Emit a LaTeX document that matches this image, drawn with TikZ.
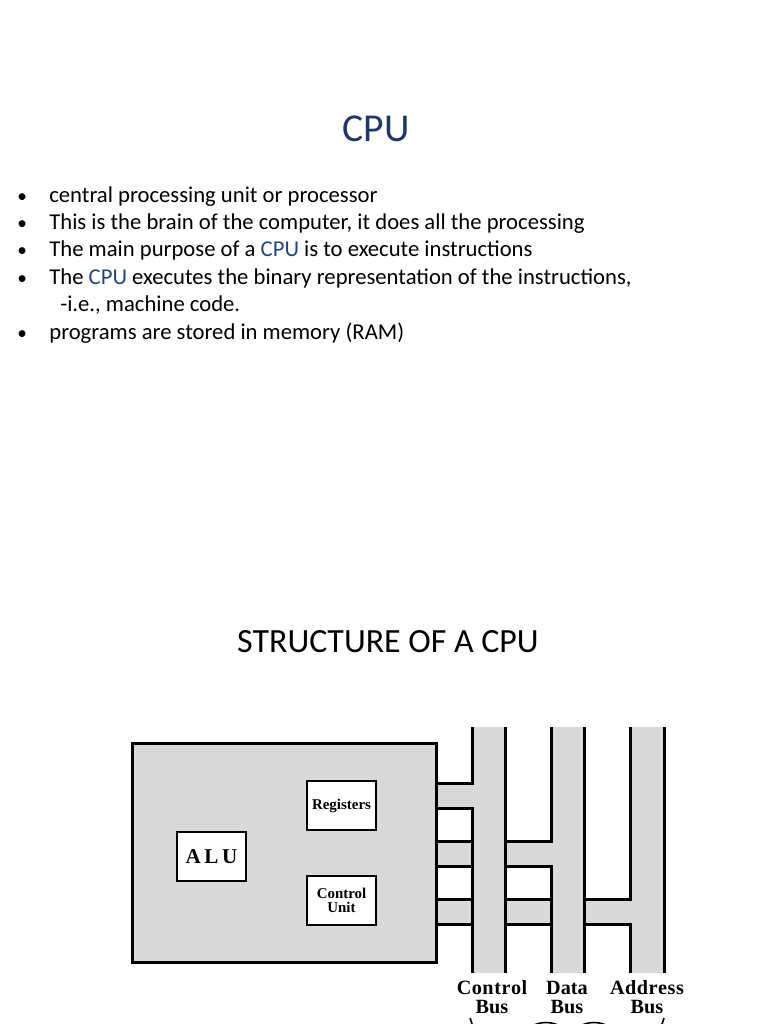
\documentclass[tikz,border=0pt]{standalone}
\usepackage{fontspec}
\setmainfont{Carlito}
\newfontfamily\figfont{Liberation Serif}
\definecolor{titleBlue}{HTML}{1F3864}
\definecolor{cpuBlue}{HTML}{1F497D}
\definecolor{busGray}{HTML}{D9D9D9}
\newcommand{\cpuword}{\textcolor{cpuBlue}{CPU}}

\begin{document}
\begin{tikzpicture}[
  x=0.02cm, y=-0.02cm,
  titleText/.style  ={anchor=base, inner sep=0pt, font=\fontsize{22.5}{27}\selectfont, text=titleBlue},
  headText/.style   ={anchor=base, inner sep=0pt, font=\fontsize{19.3}{23}\selectfont},
  bulletDot/.style  ={anchor=base west, inner sep=0pt, font=\fontsize{11}{15.5}\selectfont},
  bulletText/.style ={anchor=base west, inner sep=0pt, font=\fontsize{12.9}{15.5}\selectfont},
  cpuBox/.style     ={rectangle, draw=black, line width=1.7pt, fill=busGray, minimum width=6.1cm, minimum height=4.4cm, inner sep=0pt},
  partBox/.style    ={rectangle, draw=black, line width=1.2pt, fill=white, minimum width=1.38cm, minimum height=0.98cm, inner sep=0pt, align=center},
  busLabel/.style   ={anchor=base, inner sep=0pt, font=\figfont\bfseries\fontsize{11.5}{14}\selectfont},
  busLine/.style    ={line width=1.7pt},
  braceLine/.style  ={line width=0.9pt}
]
\fill[white] (0,0) rectangle (768,1024);
\useasboundingbox (0,0) rectangle (768,1024);
\clip (0,0) rectangle (768,1024);

% ================== TITLE ==================
\node[titleText] (Title) at (376,141) {CPU};

% ================== BULLETS ==================
\foreach \y/\n in {202/1, 229/2, 256/3, 284/4, 339/6}
  \node[bulletDot] (Dot\n) at (17,\y) {\textbullet};
\node[bulletText] (Line1) at (49,202) {central processing unit or processor};
\node[bulletText] (Line2) at (49,229) {This is the brain of the computer, it does all the processing};
\node[bulletText] (Line3) at (49,256) {The main purpose of a \cpuword{} is to execute instructions};
\node[bulletText] (Line4) at (49,284) {The \cpuword{} executes the binary representation of the instructions,};
\node[bulletText] (Line5) at (60,311) {-i.e., machine code.};
\node[bulletText] (Line6) at (49,339) {programs are stored in memory (RAM)};

% ================== STRUCTURE HEADING ==================
\node[headText] (Head) at (388,652) {STRUCTURE OF A CPU};

% ================== BUS FILLS ==================
\foreach \l/\r in {472/505, 551/584, 630/664}
  \fill[busGray] (\l,727) rectangle (\r,973);
\fill[busGray] (437,783) rectangle (472,808);
\fill[busGray] (437,841) rectangle (551,866);
\fill[busGray] (437,899) rectangle (630,924);

% ================== CPU BOX ==================
\node[cpuBox] (CPU) at (284.5,853) {};
\node[partBox, font=\figfont\bfseries\fontsize{8.5}{8}\selectfont] (Reg) at (341.5,805.5) {Registers};
\node[partBox, font=\figfont\bfseries\fontsize{12}{14}\selectfont] (ALU) at (211.5,856.5) {A\,L\,U};
\node[partBox, font=\figfont\bfseries\fontsize{8.5}{8}\selectfont] (CU) at (341.5,900.5) {Control\\Unit};

% ================== BUS LINES ==================
% control bus
\draw[busLine] (472,727) -- (472,783) -- (CPU.east |- 0,783);
\draw[busLine] (CPU.east |- 0,808) -- (472,808) -- (472,973);
\draw[busLine] (505,727) -- (505,973);
% data bus
\draw[busLine] (551,727) -- (551,841) -- (505,841);
\draw[busLine] (505,866) -- (551,866) -- (551,973);
\draw[busLine] (584,727) -- (584,973);
% address bus
\draw[busLine] (630,727) -- (630,899) -- (584,899);
\draw[busLine] (584,924) -- (630,924) -- (630,973);
\draw[busLine] (664,727) -- (664,973);
% stubs crossing
\foreach \y in {841, 866, 899, 924}
  \draw[busLine] (CPU.east |- 0,\y) -- (472,\y);
\foreach \y in {899, 924}
  \draw[busLine] (505,\y) -- (551,\y);

% ================== BUS LABELS ==================
\node[busLabel] (CtrlName) at (492,994) {C\kern.3pt o\kern.3pt n\kern.3pt t\kern.3pt r\kern.3pt o\kern.3pt l};
\node[busLabel] (CtrlBus)  at (492,1013) {Bus};
\node[busLabel] (DataName) at (567,994) {Data};
\node[busLabel] (DataBus)  at (567,1013) {Bus};
\node[busLabel] (AddrName) at (647,994) {A\kern.3pt d\kern.3pt d\kern.3pt r\kern.3pt e\kern.3pt s\kern.3pt s};
\node[busLabel] (AddrBus)  at (647,1013) {Bus};

% brace, cut by the page edge
\draw[braceLine] (470,1018) -- (473,1027);
\draw[braceLine] (664,1018) -- (661,1027);
\draw[braceLine] (530,1027) .. controls (540,1021) and (552,1021) .. (562,1027);
\draw[braceLine] (578,1027) .. controls (588,1021) and (600,1021) .. (610,1027);

\end{tikzpicture}
\end{document}
